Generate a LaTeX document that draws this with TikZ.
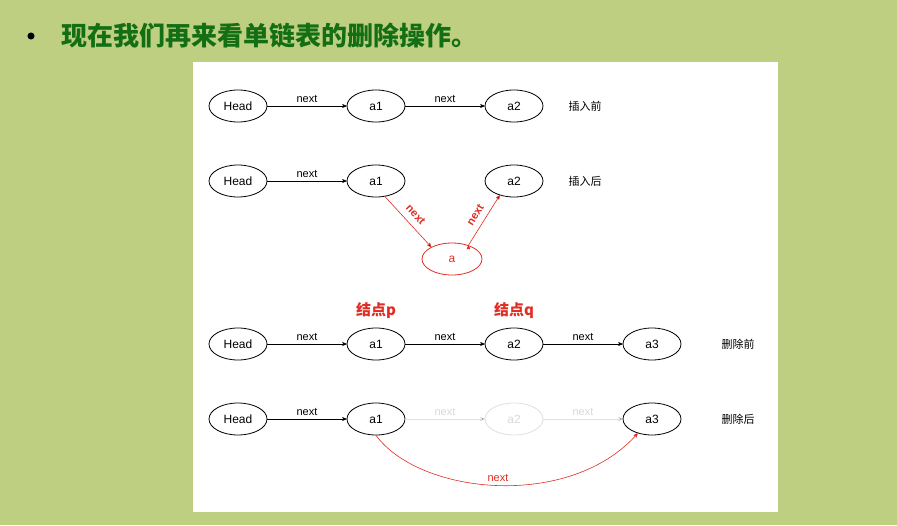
\documentclass[tikz,border=0pt]{standalone}
\usepackage{fontspec}
\setmainfont{Liberation Sans}
\newfontfamily\cjk{Noto Sans CJK SC}
\usetikzlibrary{arrows,shapes.geometric}
\definecolor{bggreen}{RGB}{190,207,130}
\definecolor{titlegreen}{RGB}{20,110,20}
\definecolor{linkred}{RGB}{225,45,35}
\begin{document}
\begin{tikzpicture}[x=1pt,y=-1pt,->,>=stealth',semithick]
   \tikzstyle{elem}=[ellipse,draw=black,thick,minimum width=58pt,minimum height=32pt,inner sep=0pt,font=\fontsize{12}{12}\selectfont]
   \tikzstyle{lbl}=[font=\fontsize{11}{11}\selectfont]
   \tikzstyle{redlbl}=[font=\bfseries\fontsize{11}{11}\selectfont,text=linkred,sloped,above,yshift=3pt]
   \tikzstyle{tag}=[font=\cjk\fontsize{11}{11}\selectfont]
   \tikzstyle{faded}=[draw=black!12,text=black!15]
   \fill[bggreen] (0,0) rectangle (897,525);
   \fill[white] (193,62) rectangle (778,512);
   \node[circle,fill=black,inner sep=2.5pt] (dot) at (31,36) {};
   \node[anchor=west,text=titlegreen,font=\cjk\bfseries\fontsize{26}{26}\selectfont] (title) at (58,36) {现在我们再来看单链表的删除操作。};
   % before insert
   \node[elem] (h1) at (238,106) {Head};
   \node[elem] (p1) at (376,106) {a1};
   \node[elem] (q1) at (514,106) {a2};
   \node[tag] (t1) at (585,106) {插入前};
   \path (h1) edge node[lbl,above] {next} (p1)
         (p1) edge node[lbl,above] {next} (q1);
   % after insert
   \node[elem] (h2) at (238,181) {Head};
   \node[elem] (p2) at (376,181) {a1};
   \node[elem] (q2) at (514,181) {a2};
   \node[tag] (t2) at (585,181) {插入后};
   \node[elem,draw=linkred,text=linkred,minimum width=60pt] (new) at (452,259) {a};
   \path (h2) edge node[lbl,above] {next} (p2);
   \path[draw=linkred] (p2.300) edge node[redlbl] {next} (new.150)
         (new.40) edge node[redlbl] {next} (q2.225);
   % before delete
   \node[elem] (h3) at (238,344) {Head};
   \node[elem] (p3) at (376,344) {a1};
   \node[elem] (q3) at (514,344) {a2};
   \node[elem] (r3) at (652,344) {a3};
   \node[tag] (t3) at (738,344) {删除前};
   \node[text=linkred,font=\cjk\bfseries\fontsize{15}{15}\selectfont] (np) at (376,311) {结点p};
   \node[text=linkred,font=\cjk\bfseries\fontsize{15}{15}\selectfont] (nq) at (514,311) {结点q};
   \path (h3) edge node[lbl,above] {next} (p3)
         (p3) edge node[lbl,above] {next} (q3)
         (q3) edge node[lbl,above] {next} (r3);
   % after delete
   \node[elem] (h4) at (238,419) {Head};
   \node[elem] (p4) at (376,419) {a1};
   \node[elem,faded] (q4) at (514,419) {a2};
   \node[elem] (r4) at (652,419) {a3};
   \node[tag] (t4) at (738,419) {删除后};
   \path (h4) edge node[lbl,above] {next} (p4);
   \path[draw=black!12] (p4) edge node[lbl,above,text=black!15] {next} (q4)
         (q4) edge node[lbl,above,text=black!15] {next} (r4);
   \draw[linkred] (p4.south) .. controls (420,495) and (570,510) .. node[lbl,above,text=linkred,pos=0.5] {next} (r4.225);
\end{tikzpicture}
\end{document}
